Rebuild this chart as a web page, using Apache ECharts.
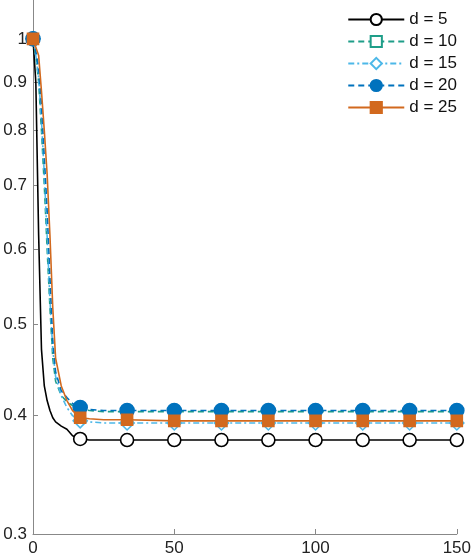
<!DOCTYPE html>
<html><head><meta charset="utf-8">
<script src="https://cdn.jsdelivr.net/npm/echarts@6/dist/echarts.min.js"></script>
<style>html,body{margin:0;padding:0;background:#fff}#c{width:474px;height:558px}</style>
</head><body><div id="c"></div>
<script>
const names = ['d = 5','d = 10','d = 15','d = 20','d = 25'];
const xs = [0,1,2,3,4,5,6,7,8,10,12,14,16.7,20,25,33.3,50,66.7,83.3,100,116.7,133.3,150];
const markerXs = [0,16.7,33.3,50,66.7,83.3,100,116.7,133.3,150];
const d5  = [1,0.9,0.62,0.47,0.43,0.415,0.405,0.398,0.394,0.39,0.387,0.381,0.378,0.377,0.377,0.377,0.377,0.377,0.377,0.377,0.377,0.377,0.377];
const d10 = [1,0.96,0.9,0.8,0.7,0.6,0.52,0.46,0.435,0.42,0.414,0.41,0.407,0.405,0.404,0.404,0.404,0.404,0.404,0.404,0.404,0.404,0.404];
const d15 = [1,0.96,0.91,0.82,0.72,0.62,0.53,0.47,0.44,0.42,0.408,0.4,0.395,0.394,0.393,0.393,0.393,0.393,0.393,0.393,0.393,0.393,0.393];
const d20 = [1,0.97,0.93,0.85,0.75,0.66,0.56,0.48,0.445,0.425,0.418,0.412,0.408,0.406,0.405,0.405,0.405,0.405,0.405,0.405,0.405,0.405,0.405];
const d25 = [1,0.98,0.96,0.88,0.8,0.72,0.62,0.52,0.46,0.43,0.415,0.405,0.398,0.397,0.396,0.396,0.395,0.395,0.395,0.395,0.395,0.395,0.395];
const yTicks = [0.3,0.4,0.5,0.6,0.7,0.8,0.9,1];
const xTicks = [0,50,100,150];

const L = v => Math.log10(v);
const styles = [
  {c:'#000000', type:'solid', sym:'circle', size:13, fill:'#fff'},
  {c:'#1f9e89', type:[6,4], sym:'rect', size:9, fill:'#fff'},
  {c:'#4db8e8', type:[6,3,2,3], sym:'diamond', size:14, fill:'#fff'},
  {c:'#0072bd', type:[6,4], sym:'circle', size:14, fill:'#0072bd'},
  {c:'#d2691e', type:'solid', sym:'rect', size:11, fill:'#d2691e'}
];
const all = [d5,d10,d15,d20,d25];
const series = all.map((ys,i)=>{
  const s = styles[i];
  return {
    name:names[i], type:'line', symbol:s.sym, symbolSize:s.size, z:2+i,
    lineStyle:{color:s.c,width:1.6,type:s.type},
    itemStyle:{color:s.fill,borderColor:s.c,borderWidth:1.6},
    data: xs.map((x,j)=>({value:[x,L(ys[j])], symbol: markerXs.includes(x)?s.sym:'none'}))
  };
});
const chart = echarts.init(document.getElementById('c'));
chart.setOption({
  animation:false,
  grid:{left:33,right:15,top:0,bottom:24,containLabel:false},
  legend:{orient:'vertical',right:12,top:6,itemGap:5,itemWidth:56,itemHeight:14,
    textStyle:{fontSize:17,color:'#111',fontFamily:'Liberation Sans'},data:names},
  xAxis:{type:'value',min:0,max:150,interval:50,
    axisLine:{onZero:false,lineStyle:{color:'#888'}},axisTick:{inside:true,lineStyle:{color:'#888'}},
    splitLine:{show:false},axisLabel:{fontSize:17,color:'#222',fontFamily:'Liberation Sans',margin:6}},
  yAxis:{type:'value',min:L(0.3),max:0.041,
    axisLine:{show:true,onZero:false,lineStyle:{color:'#888'}},
    axisTick:{show:true,inside:true,lineStyle:{color:'#888'},customValues:yTicks.map(L)},
    splitLine:{show:false},
    axisLabel:{fontSize:17,color:'#222',fontFamily:'Liberation Sans',margin:6,
      customValues:yTicks.map(L),
      formatter:v=>String(Math.round(Math.pow(10,v)*10)/10)}},
  series
});
</script></body></html>
